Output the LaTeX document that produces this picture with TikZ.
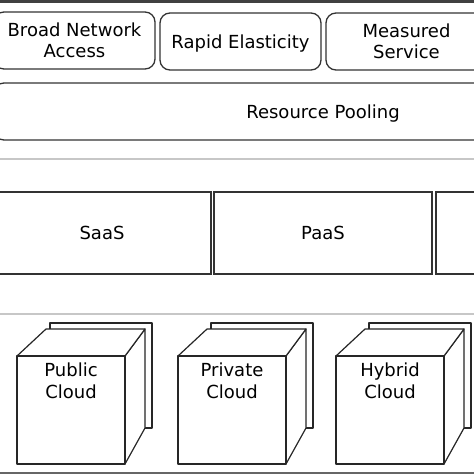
\documentclass[tikz,border=0pt]{standalone}
\usepackage{fontspec}
\setmainfont{DejaVu Sans}
\usepackage{tikz}
\tikzstyle{feature}=[draw=black!80, line width=1.3pt, rounded corners=10pt, minimum width=161pt, minimum height=57pt, align=center]
\tikzstyle{service}=[draw=black!80, line width=1.3pt, minimum width=218pt, minimum height=82pt, align=center]
\tikzstyle{cube}=[draw=black!85, line width=1.2pt, fill=white, line join=round]
\tikzstyle{sepline}=[draw=black!22, line width=2pt]

% one deployment cube, #1 = left edge of the front face
\newcommand{\cloudcube}[3]{%
\draw[cube] (#1+33,323) rectangle (#1+135,428);
\draw[cube] (#1+108,356) -- (#1+128,329) -- (#1+128,428) -- (#1+108,464) -- cycle;
\draw[cube] (#1,356) -- (#1+29,329) -- (#1+128,329) -- (#1+108,356) -- cycle;
\draw[cube] (#1,356) rectangle (#1+108,464);
\node[align=center] (#2) at (#1+54,381) {#3};
}

\begin{document}
\begin{tikzpicture}[x=1pt, y=-1pt, font=\fontsize{18}{21.5}\selectfont]

\fill[white] (0,0) rectangle (474,474);
\useasboundingbox (0,0) rectangle (474,474);

\fill[black!75] (0,0) rectangle (474,2.5);

\node[feature] (bna) at (74.5,40.5) {Broad Network\\Access};
\node[feature, text depth=0pt] (re) at (240.5,41.5) {Rapid Elasticity};
\node[feature] (ms) at (406.5,41.5) {Measured\\Service};
\node[feature, minimum width=658pt, text depth=0pt] (rp) at (323,111.5) {Resource Pooling};

\draw[sepline] (0,158.5) -- (474,158.5);

\node[service] (saas) at (102,233) {SaaS};
\node[service] (paas) at (323,233) {PaaS};
\node[service] (iaas) at (545,233) {};

\draw[sepline] (0,314) -- (474,314);

\cloudcube{17}{pub}{Public\\Cloud}
\cloudcube{178}{priv}{Private\\Cloud}
\cloudcube{336}{hyb}{Hybrid\\Cloud}

\draw[draw=black!60, line width=2pt] (0,473) -- (474,473);

\end{tikzpicture}
\end{document}
